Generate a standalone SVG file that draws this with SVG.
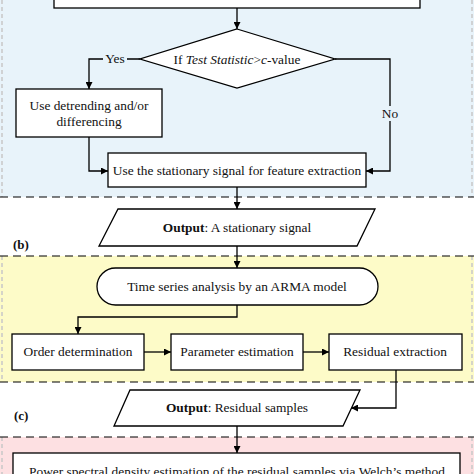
<svg xmlns="http://www.w3.org/2000/svg" width="474" height="474" viewBox="0 0 474 474">
<defs>
<marker id="ah" viewBox="0 0 10 10" refX="10" refY="5" markerWidth="7" markerHeight="7" markerUnits="userSpaceOnUse" orient="auto">
<path d="M0,0 L10,5 L0,10 z" fill="#000"/>
</marker>
<style>
.box{fill:#fff;stroke:#000;stroke-width:1.3}
.t{font-family:"Liberation Serif","Times New Roman",serif;font-size:13.4px;fill:#111;text-anchor:middle}
.c{fill:none;stroke:#000;stroke-width:1.3;marker-end:url(#ah)}
.div{stroke:#000;stroke-width:1.1;stroke-dasharray:8 5}
.edge{fill:none;stroke:#c8c8c8;stroke-width:1.5;stroke-dasharray:4 3}
.lbl{font-family:"Liberation Serif","Times New Roman",serif;font-size:13px;font-weight:bold;fill:#111}
</style>
</defs>
<rect x="0" y="0" width="474" height="474" fill="#fff"/>
<g id="regions">
<rect x="0" y="0" width="474" height="197" fill="#e8f3fa"/>
<rect x="0" y="256" width="474" height="126" fill="#fdfbc8"/>
<rect x="0" y="437" width="474" height="37" fill="#fde0e2"/>
<line x1="2" y1="0" x2="2" y2="197" class="edge"/>
<line x1="472" y1="0" x2="472" y2="197" class="edge"/>
<line x1="2" y1="256" x2="2" y2="382" class="edge"/>
<line x1="472" y1="256" x2="472" y2="382" class="edge"/>
<line x1="2" y1="437" x2="2" y2="474" class="edge"/>
<line x1="472" y1="437" x2="472" y2="474" class="edge"/>
<line x1="0" y1="197" x2="474" y2="197" class="div"/>
<line x1="0" y1="256" x2="474" y2="256" class="div"/>
<line x1="0" y1="382" x2="474" y2="382" class="div"/>
<line x1="0" y1="437" x2="474" y2="437" class="div"/>
<text x="13" y="249" class="lbl">(b)</text>
<text x="14" y="420" class="lbl">(c)</text>
</g>
<g id="connectors">
<path d="M237,8 V29" class="c"/>
<path d="M140,59 H89 V89" class="c"/>
<path d="M335,59 H390 V171 H366" class="c"/>
<path d="M89,137 V171 H108" class="c"/>
<path d="M237,187 V209" class="c"/>
<path d="M237,246 V268" class="c"/>
<path d="M237,305 V317 H78 V334" class="c"/>
<path d="M144,352 H171" class="c"/>
<path d="M303,352 H329" class="c"/>
<path d="M396,370 V408 H351" class="c"/>
<path d="M237,426 V453" class="c"/>
<rect x="103" y="51" width="24" height="15" fill="#e8f3fa"/>
<text x="115" y="63" class="t">Yes</text>
<rect x="379" y="106" width="22" height="15" fill="#e8f3fa"/>
<text x="390" y="118" class="t">No</text>
</g>
<g id="n_top"><rect x="54" y="-20" width="366" height="28" class="box"/></g>
<g id="n_decision">
<polygon points="237,29 335,59 237,88 140,59" class="box"/>
<text x="237" y="64" class="t">If <tspan font-style="italic">Test Statistic</tspan>&gt;<tspan font-style="italic">c</tspan>-value</text>
</g>
<g id="n_detrend">
<rect x="16" y="89" width="146" height="48" class="box"/>
<text x="89" y="110" class="t">Use detrending and/or</text>
<text x="89" y="126" class="t">differencing</text>
</g>
<g id="n_use">
<rect x="108" y="153" width="258" height="34" class="box"/>
<text x="237" y="175" class="t">Use the stationary signal for feature extraction</text>
</g>
<g id="n_out1">
<polygon points="118,209 375,209 357,246 99,246" class="box"/>
<text x="237" y="232" class="t"><tspan font-weight="bold">Output</tspan>: A stationary signal</text>
</g>
<g id="n_arma">
<rect x="97" y="268" width="281" height="37" rx="18.5" class="box"/>
<text x="237" y="291" class="t">Time series analysis by an ARMA model</text>
</g>
<g id="n_order">
<rect x="12" y="334" width="132" height="36" class="box"/>
<text x="78" y="356" class="t">Order determination</text>
</g>
<g id="n_param">
<rect x="171" y="334" width="132" height="36" class="box"/>
<text x="237" y="356" class="t">Parameter estimation</text>
</g>
<g id="n_resid">
<rect x="329" y="334" width="133" height="36" class="box"/>
<text x="395" y="356" class="t">Residual extraction</text>
</g>
<g id="n_out2">
<polygon points="130,390 360,390 343,426 114,426" class="box"/>
<text x="237" y="412" class="t"><tspan font-weight="bold">Output</tspan>: Residual samples</text>
</g>
<g id="n_psd">
<rect x="13" y="453" width="447" height="40" class="box"/>
<text x="237" y="476" class="t">Power spectral density estimation of the residual samples via Welch’s method</text>
</g>
</svg>
